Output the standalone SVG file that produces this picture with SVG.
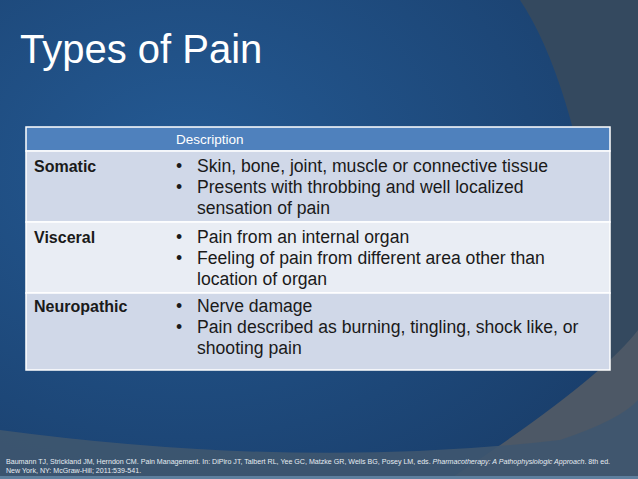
<svg xmlns="http://www.w3.org/2000/svg" width="638" height="479" viewBox="0 0 638 479">
<defs>
<radialGradient id="bg" cx="0.3" cy="0.35" r="0.8">
<stop offset="0" stop-color="#245a94"/><stop offset="1" stop-color="#1a3f6c"/>
</radialGradient>
<style>
text{font-family:"Liberation Sans",Arial,sans-serif;fill:#1a1a1a}
.h{font-weight:bold;font-size:16px}
.d{font-size:17.6px}
</style>
</defs>
<rect width="638" height="479" fill="#34495f"/>
<path d="M0,0 H520 Q600,120 620,479 H0 Z" fill="url(#bg)"/>
<path d="M450,479 Q600,380 638,330 V479 Z" fill="#4d5866"/>
<path d="M0,430 Q300,470 560,440 Q620,420 638,400 V479 H0 Z" fill="#3f566f" opacity="0.9"/>
<rect x="0" y="476" width="638" height="3" fill="#5e7f9e"/>
<text x="20" y="63" style="font-size:40px;fill:#fff">Types of Pain</text>
<g id="table" stroke="#fff" stroke-width="1.5">
<rect x="26" y="127" width="584" height="24" fill="#4f81bd"/>
<rect x="26" y="151" width="584" height="71" fill="#d0d8e8"/>
<rect x="26" y="222" width="584" height="71" fill="#e9edf4"/>
<rect x="26" y="293" width="584" height="77" fill="#d0d8e8"/>
</g>
<text x="176" y="144" style="font-size:13.5px;fill:#fff">Description</text>
<g id="somatic"><text class="h" x="34" y="172">Somatic</text>
<text class="d" x="176" y="172">•</text><text class="d" x="197" y="172">Skin, bone, joint, muscle or connective tissue</text>
<text class="d" x="176" y="193">•</text><text class="d" x="197" y="193">Presents with throbbing and well localized</text>
<text class="d" x="197" y="214">sensation of pain</text></g>
<g id="visceral"><text class="h" x="34" y="243">Visceral</text>
<text class="d" x="176" y="243">•</text><text class="d" x="197" y="243">Pain from an internal organ</text>
<text class="d" x="176" y="264">•</text><text class="d" x="197" y="264">Feeling of pain from different area other than</text>
<text class="d" x="197" y="285">location of organ</text></g>
<g id="neuropathic"><text class="h" x="34" y="312">Neuropathic</text>
<text class="d" x="176" y="312">•</text><text class="d" x="197" y="312">Nerve damage</text>
<text class="d" x="176" y="333">•</text><text class="d" x="197" y="333">Pain described as burning, tingling, shock like, or</text>
<text class="d" x="197" y="354">shooting pain</text></g>
<text x="6" y="464" style="font-size:7.1px;fill:#e6ecf2">Baumann TJ, Strickland JM, Herndon CM. Pain Management. In: DiPiro JT, Talbert RL, Yee GC, Matzke GR, Wells BG, Posey LM, eds. <tspan font-style="italic">Pharmacotherapy: A Pathophysiologic Approach</tspan>. 8th ed.</text>
<text x="6" y="473" style="font-size:7.1px;fill:#e6ecf2">New York, NY: McGraw-Hill; 2011:539-541.</text>
</svg>
